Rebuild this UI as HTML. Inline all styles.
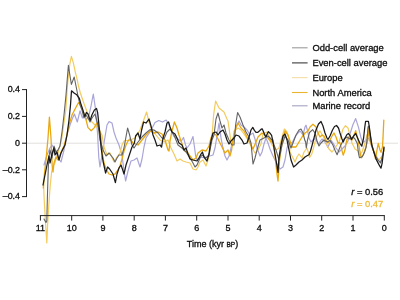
<!DOCTYPE html>
<html lang="en"><head><meta charset="utf-8"><title>Figure</title>
<style>
html,body{margin:0;padding:0;background:#fff;}
body{width:400px;height:300px;overflow:hidden;position:relative;font-family:"Liberation Sans",sans-serif;}
svg{position:absolute;left:0;top:0;display:block;}
text{font-family:"Liberation Sans",sans-serif;fill:#0c0c0c;stroke:#0c0c0c;stroke-width:0.3px;}
.ax{stroke:#222;stroke-width:1;fill:none;}
.ser{fill:none;stroke-linejoin:round;stroke-linecap:round;}
</style></head><body>
<svg width="400" height="300" viewBox="0 0 400 300">
<rect width="400" height="300" fill="#fff"/>
<line x1="27" y1="143.2" x2="398" y2="143.2" stroke="#e3e0dc" stroke-width="1"/>
<path class="ser" d="M44.0,165.0 L47.0,155.0 L50.0,148.0 L52.0,145.0 L55.0,150.0 L58.0,158.0 L61.0,162.0 L64.0,150.0 L67.0,135.0 L70.0,125.0 L72.0,119.6 L74.4,114.0 L77.3,122.0 L80.0,110.8 L82.4,118.0 L84.0,114.8 L86.4,119.6 L88.8,116.4 L91.2,105.2 L93.3,94.0 L95.2,106.8 L96.5,121.2 L97.6,134.0 L98.8,157.5 L100.0,167.0 L102.0,155.0 L104.0,143.0 L107.0,125.0 L109.0,121.6 L112.0,123.0 L114.0,132.0 L116.0,138.0 L119.0,145.0 L122.0,155.0 L124.0,171.0 L125.6,181.0 L128.0,171.0 L131.0,161.0 L134.0,160.0 L137.0,158.0 L140.0,167.0 L142.0,159.0 L144.0,147.0 L146.0,138.0 L148.0,135.0 L151.2,130.0 L155.0,122.5 L158.8,120.5 L162.5,122.0 L166.2,120.0 L168.8,123.8 L171.2,130.0 L173.8,136.2 L177.5,138.8 L181.2,141.2 L183.5,137.5 L185.5,145.0 L187.0,148.0 L190.0,144.0 L193.0,136.5 L194.4,146.5 L195.6,155.5 L197.0,160.0 L200.0,157.0 L205.0,158.0 L210.0,156.0 L213.0,155.0 L215.0,148.0 L217.0,136.0 L219.0,123.0 L220.0,130.0 L221.0,138.0 L223.0,148.0 L225.0,156.0 L227.0,160.0 L229.0,156.0 L231.0,148.0 L233.0,140.0 L235.0,132.0 L237.0,125.0 L239.0,121.0 L241.0,125.0 L244.0,127.0 L247.0,130.0 L250.0,135.0 L253.0,133.0 L255.0,139.0 L257.0,148.0 L260.0,156.0 L262.0,152.0 L264.0,144.0 L266.0,138.0 L268.0,143.0 L270.0,149.0 L273.0,156.0 L277.0,164.0 L280.0,169.0 L283.0,167.0 L285.0,160.0 L287.0,148.0 L289.0,142.0 L292.0,143.0 L295.0,137.0 L298.0,133.0 L300.0,131.0 L303.0,135.0 L305.0,127.0 L306.0,125.2 L307.6,131.0 L309.0,138.0 L311.0,142.0 L313.0,140.0 L315.7,138.2 L317.4,142.6 L319.0,144.8 L320.1,141.5 L322.0,139.0 L324.5,141.5 L326.7,144.8 L327.8,147.5 L329.4,143.7 L331.1,140.4 L333.0,143.0 L336.0,148.0 L339.0,152.0 L342.0,149.0 L345.0,146.0 L348.0,141.0 L350.0,134.0 L352.8,125.0 L355.7,118.6 L358.5,127.4 L360.6,136.2 L362.3,141.7 L364.0,142.0 L366.0,140.0 L369.0,138.0 L371.0,144.0 L372.8,149.0 L375.5,154.5 L377.7,159.0 L380.0,162.0 L381.5,160.0 L384.0,150.0" stroke="#a9a5d8" stroke-width="1.2"/>
<path class="ser" d="M43.4,180.0 L44.2,200.0 L45.5,222.0 L46.8,243.0 L47.6,225.0 L48.5,210.0 L49.3,198.0 L50.2,186.0 L51.6,172.0 L53.0,166.0 L54.5,164.0 L58.0,153.0 L61.8,138.0 L65.8,110.0 L67.4,86.0 L68.6,74.0 L69.8,64.4 L71.4,56.4 L73.4,63.2 L75.2,71.6 L77.0,78.8 L78.4,85.5 L80.2,92.5 L82.4,99.0 L84.0,103.6 L86.4,110.0 L88.8,116.4 L91.0,121.0 L95.0,125.0 L98.0,128.0 L102.0,135.0 L104.0,147.0 L107.0,155.0 L110.0,153.0 L114.0,162.0 L117.0,157.0 L120.0,153.0 L122.0,145.0 L124.0,141.0 L130.0,140.0 L135.0,138.0 L140.0,130.0 L143.0,122.0 L146.6,112.0 L149.0,122.0 L152.0,130.0 L156.0,135.0 L160.0,140.0 L164.0,142.0 L168.0,140.0 L171.0,148.0 L174.0,154.0 L177.0,161.0 L180.0,159.0 L183.0,161.0 L186.0,162.0 L190.0,163.0 L193.0,169.0 L196.0,170.0 L198.0,167.0 L200.0,162.0 L203.0,160.0 L206.0,166.0 L208.0,160.0 L210.0,150.0 L212.0,136.0 L213.6,115.0 L215.6,101.0 L219.0,108.0 L224.0,112.0 L227.0,119.0 L228.0,121.0 L230.0,135.0 L231.6,147.0 L233.0,140.0 L234.0,131.0 L238.0,128.0 L241.0,130.0 L244.0,134.0 L248.0,140.0 L252.0,148.0 L255.0,153.0 L258.0,150.0 L261.0,144.0 L263.0,134.0 L267.0,132.0 L270.0,138.0 L272.0,145.0 L276.0,150.0 L279.0,148.0 L282.0,137.0 L284.4,129.0 L287.0,132.0 L289.0,139.0 L290.0,152.0 L293.0,158.0 L295.0,162.0 L297.0,157.0 L299.0,154.0 L302.0,158.0 L304.0,152.0 L307.0,148.0 L308.5,153.0 L309.6,157.5 L311.9,153.6 L313.5,148.0 L314.6,143.7 L316.0,138.0 L318.0,133.0 L320.0,131.0 L323.0,136.0 L326.0,143.0 L329.0,149.0 L332.0,152.0 L335.0,148.0 L339.0,142.0 L341.0,136.0 L343.0,129.0 L345.5,125.7 L348.0,128.0 L350.0,135.0 L352.0,143.0 L355.0,149.0 L358.0,151.0 L360.0,155.0 L362.0,152.0 L365.0,143.0 L367.0,135.0 L369.0,131.0 L371.0,139.0 L373.0,149.0 L376.0,156.0 L379.0,160.0 L382.0,156.0 L384.4,150.0" stroke="#f3cb5e" stroke-width="1.2"/>
<path class="ser" d="M43.3,188.0 L44.6,172.0 L46.0,160.0 L48.0,138.0 L49.4,117.2 L51.0,138.0 L52.2,166.0 L53.0,172.0 L54.0,163.0 L56.0,157.0 L58.0,160.0 L60.0,155.0 L62.0,150.0 L64.0,146.0 L66.6,136.4 L69.0,125.0 L72.0,115.0 L75.6,108.0 L78.4,102.8 L80.8,105.0 L83.2,111.6 L85.6,118.0 L88.0,127.6 L91.2,130.8 L94.4,127.6 L96.8,123.0 L99.0,128.0 L101.0,138.0 L102.0,151.0 L104.0,163.0 L106.0,169.0 L109.0,174.0 L112.0,175.0 L115.0,174.0 L118.0,170.0 L120.0,166.0 L122.0,159.0 L124.0,151.0 L126.0,145.0 L128.0,141.0 L130.0,139.0 L133.0,143.0 L138.0,145.0 L142.0,140.0 L146.0,135.0 L150.0,131.0 L154.0,133.0 L158.0,132.0 L162.0,134.0 L165.0,140.0 L168.0,150.0 L169.0,151.0 L170.0,141.0 L172.0,131.0 L174.4,122.0 L177.0,128.0 L179.0,135.0 L181.0,141.0 L183.0,147.0 L185.0,151.0 L187.0,152.0 L190.0,156.0 L193.0,160.0 L196.0,158.0 L198.0,153.0 L202.0,150.0 L206.0,151.0 L209.0,146.0 L211.0,138.0 L213.0,133.0 L216.0,135.0 L219.0,141.0 L222.0,147.0 L225.0,153.0 L228.0,150.0 L230.0,156.0 L231.6,150.0 L233.0,140.0 L234.0,135.0 L236.0,127.0 L238.0,123.0 L241.0,128.0 L244.0,131.0 L247.0,137.0 L250.0,143.0 L253.0,149.0 L256.0,142.0 L258.0,137.0 L262.0,133.0 L265.0,135.0 L268.0,138.0 L271.0,142.0 L273.0,140.0 L275.0,156.0 L277.0,174.0 L278.0,181.0 L279.6,160.0 L281.0,150.0 L283.0,138.0 L285.0,131.0 L288.0,135.0 L290.0,141.0 L292.0,147.0 L296.0,147.0 L299.0,142.0 L302.0,137.0 L305.0,133.0 L308.0,131.0 L310.0,127.0 L313.0,124.3 L316.0,127.0 L318.0,133.0 L320.0,137.0 L322.0,135.0 L324.0,136.0 L326.0,140.0 L328.0,143.0 L330.0,140.0 L332.0,136.0 L334.0,133.0 L336.0,137.0 L338.0,143.0 L339.9,142.6 L341.6,149.2 L343.2,155.2 L344.9,150.3 L346.0,143.7 L347.0,139.3 L349.0,137.0 L352.0,140.0 L355.7,130.7 L358.0,140.0 L360.0,152.0 L361.2,157.8 L363.4,154.5 L365.6,148.0 L367.8,140.0 L368.4,128.5 L370.0,140.0 L372.0,147.0 L374.4,153.4 L375.5,158.9 L377.0,150.0 L378.2,143.5 L380.0,150.0 L381.0,152.3 L382.5,147.0 L383.0,138.0 L383.8,120.2" stroke="#e8a812" stroke-width="1.3"/>
<path class="ser" d="M44.0,219.0 L46.0,222.5 L46.8,221.0 L47.2,205.0 L47.6,190.0 L48.3,168.0 L48.8,158.0 L50.0,150.0 L52.0,158.0 L54.0,146.0 L56.0,152.0 L58.0,150.0 L60.0,146.0 L62.0,132.0 L64.0,115.0 L66.0,95.0 L67.2,80.0 L68.4,65.4 L70.0,76.0 L71.4,84.4 L74.2,77.0 L76.8,90.0 L78.4,98.0 L80.0,105.0 L82.0,110.0 L84.0,118.0 L86.0,115.0 L88.0,118.0 L90.0,122.0 L92.0,118.0 L95.0,114.0 L98.0,125.0 L100.0,140.0 L103.0,150.0 L106.0,156.0 L109.0,153.0 L113.0,158.0 L115.0,162.0 L117.0,158.0 L119.0,155.0 L122.0,155.0 L124.0,148.0 L125.6,139.0 L127.6,128.0 L129.6,135.0 L132.0,145.0 L134.0,148.0 L138.0,142.0 L142.0,137.0 L146.0,133.0 L150.0,129.6 L154.0,130.0 L158.0,133.0 L162.0,138.0 L164.0,139.0 L167.0,132.0 L170.0,129.0 L174.0,135.0 L178.0,145.0 L182.0,148.0 L186.0,152.0 L190.0,158.0 L193.0,163.0 L195.0,167.0 L197.0,165.0 L200.0,158.0 L202.0,155.0 L206.0,158.0 L209.0,155.0 L212.0,140.0 L214.0,135.0 L216.0,119.0 L218.0,113.0 L220.0,121.0 L222.0,128.0 L224.0,125.0 L226.0,133.0 L229.0,140.0 L232.0,145.0 L234.0,145.0 L235.6,125.0 L237.6,112.6 L240.0,117.0 L243.0,125.0 L246.0,132.0 L249.0,137.0 L251.0,143.0 L253.0,164.0 L255.0,158.0 L257.0,150.0 L260.0,140.0 L264.0,138.0 L268.0,136.0 L272.0,140.0 L276.0,150.0 L279.0,160.0 L282.0,145.0 L285.0,136.0 L288.0,140.0 L291.0,148.0 L293.0,143.0 L296.0,135.0 L299.0,130.0 L301.0,129.0 L303.0,133.0 L305.0,141.0 L305.5,141.0 L306.3,148.0 L307.5,140.0 L309.5,132.5 L312.7,129.7 L315.0,133.0 L317.0,141.0 L319.0,146.0 L321.0,143.0 L324.0,140.0 L327.0,142.0 L330.0,140.4 L332.8,144.8 L335.0,150.3 L337.1,154.7 L338.8,150.3 L340.4,145.9 L342.1,142.6 L344.0,139.0 L347.0,137.0 L350.0,139.0 L353.0,137.0 L355.0,139.0 L357.3,143.5 L358.5,153.4 L359.5,157.8 L362.3,156.7 L364.5,152.3 L366.2,146.8 L367.2,138.0 L368.0,127.0 L369.0,126.0 L370.0,134.0 L372.0,146.0 L375.0,155.0 L378.0,160.0 L380.5,163.0 L382.0,158.0 L384.0,148.0" stroke="#636363" stroke-width="1.1"/>
<path class="ser" d="M43.0,185.0 L45.0,175.0 L47.0,165.0 L49.0,156.0 L50.0,163.0 L52.0,154.0 L54.0,148.0 L55.0,155.0 L57.0,152.0 L59.0,160.0 L61.0,153.0 L63.0,149.0 L65.0,145.0 L67.0,135.0 L69.0,120.0 L70.5,105.0 L71.5,90.8 L74.4,93.2 L76.8,94.8 L79.2,98.0 L80.8,103.6 L82.4,108.4 L84.8,116.4 L86.4,112.4 L88.0,114.0 L90.1,120.4 L92.0,114.8 L94.4,110.0 L96.5,108.4 L97.6,112.4 L98.4,119.6 L99.2,127.6 L100.0,134.0 L101.0,147.0 L103.0,161.0 L105.6,173.0 L107.6,167.0 L109.6,169.0 L113.0,174.0 L115.4,182.6 L117.0,174.0 L119.0,168.0 L121.0,165.0 L122.4,169.0 L124.0,174.0 L126.0,165.0 L128.0,159.0 L130.0,153.0 L132.0,147.0 L134.4,143.0 L135.6,136.0 L138.0,133.0 L140.0,139.0 L141.6,130.0 L143.6,122.0 L146.0,123.0 L149.0,119.0 L151.0,126.0 L153.0,135.0 L155.0,140.0 L157.0,146.0 L160.0,145.0 L161.6,147.0 L163.0,138.0 L165.0,132.0 L167.0,123.0 L168.6,122.0 L170.0,127.0 L172.0,132.0 L175.0,134.0 L177.0,138.0 L179.0,143.0 L182.0,145.0 L184.0,150.0 L186.0,148.0 L188.0,154.0 L190.0,159.0 L193.0,160.0 L197.0,161.0 L199.0,158.0 L201.0,154.0 L202.4,152.0 L204.0,157.0 L207.0,161.0 L209.0,154.0 L210.0,146.0 L211.0,141.0 L213.0,133.0 L216.0,132.0 L218.0,135.0 L220.0,132.0 L223.0,130.0 L225.0,134.0 L227.0,140.0 L229.0,144.0 L231.0,141.0 L233.0,139.0 L236.0,135.0 L239.0,136.0 L242.0,140.0 L244.0,144.0 L247.0,143.0 L249.0,137.0 L251.0,130.0 L252.8,127.4 L254.4,130.4 L256.0,132.4 L257.6,132.4 L259.6,130.8 L261.2,129.2 L262.2,128.8 L263.6,132.0 L265.2,136.0 L266.0,136.8 L267.2,134.0 L268.4,131.6 L270.0,133.2 L271.6,135.4 L272.4,139.2 L273.0,142.0 L275.0,154.0 L277.0,166.0 L278.0,172.5 L279.0,157.0 L281.0,145.0 L283.0,136.0 L285.0,134.0 L287.0,140.0 L289.0,150.0 L291.0,160.0 L293.6,167.0 L296.0,165.0 L299.0,162.0 L302.0,160.0 L305.0,157.0 L307.5,155.5 L309.0,154.7 L310.5,151.0 L312.0,145.6 L314.0,138.0 L316.0,130.0 L318.5,124.0 L321.0,121.5 L323.0,126.0 L325.0,133.0 L327.0,138.0 L328.0,139.5 L330.0,136.0 L332.5,130.0 L334.5,126.5 L336.5,125.5 L338.5,128.0 L340.0,133.0 L342.0,139.0 L343.2,142.0 L345.0,138.0 L347.0,134.5 L348.5,133.5 L350.0,135.5 L351.5,139.5 L353.6,136.0 L355.7,133.5 L357.6,138.0 L360.0,143.5 L361.8,146.2 L363.6,138.0 L364.8,127.0 L365.6,121.4 L368.4,121.4 L369.2,126.0 L370.0,132.0 L371.7,144.6 L373.9,152.3 L376.0,158.9 L378.8,164.4 L381.0,168.2 L382.1,163.3 L383.2,154.5 L384.0,147.0" stroke="#1a1a1a" stroke-width="1.25"/>
<path class="ax" d="M26.5,89.1 V197.1 M22,89.6 H26.5 M22,116.4 H26.5 M22,143.2 H26.5 M22,169.8 H26.5 M22,196.6 H26.5 "/>
<text x="20" y="92.4" font-size="8.9" text-anchor="end">0.4</text>
<text x="20" y="119.2" font-size="8.9" text-anchor="end">0.2</text>
<text x="20" y="146.0" font-size="8.9" text-anchor="end">0</text>
<text x="20" y="172.6" font-size="8.9" text-anchor="end">–0.2</text>
<text x="20" y="199.4" font-size="8.9" text-anchor="end">–0.4</text>
<path class="ax" d="M39.9,215.6 H384.8 M40.4,215.6 V220.6 M71.7,215.6 V220.6 M102.9,215.6 V220.6 M134.2,215.6 V220.6 M165.4,215.6 V220.6 M196.7,215.6 V220.6 M228.0,215.6 V220.6 M259.2,215.6 V220.6 M290.5,215.6 V220.6 M321.7,215.6 V220.6 M353.0,215.6 V220.6 M384.3,215.6 V220.6 "/>
<text x="40.4" y="230.8" font-size="9" text-anchor="middle">11</text>
<text x="71.7" y="230.8" font-size="9" text-anchor="middle">10</text>
<text x="102.9" y="230.8" font-size="9" text-anchor="middle">9</text>
<text x="134.2" y="230.8" font-size="9" text-anchor="middle">8</text>
<text x="165.4" y="230.8" font-size="9" text-anchor="middle">7</text>
<text x="196.7" y="230.8" font-size="9" text-anchor="middle">6</text>
<text x="228.0" y="230.8" font-size="9" text-anchor="middle">5</text>
<text x="259.2" y="230.8" font-size="9" text-anchor="middle">4</text>
<text x="290.5" y="230.8" font-size="9" text-anchor="middle">3</text>
<text x="321.7" y="230.8" font-size="9" text-anchor="middle">2</text>
<text x="353.0" y="230.8" font-size="9" text-anchor="middle">1</text>
<text x="384.3" y="230.8" font-size="9" text-anchor="middle">0</text>
<text x="212.5" y="247.4" font-size="9" text-anchor="middle">Time (kyr <tspan font-size="6.5">BP</tspan>)</text>
<line x1="292" y1="47.8" x2="307.6" y2="47.8" stroke="#9b9b9b" stroke-width="1.1"/>
<text x="312.4" y="51.0" font-size="9.4">Odd-cell average</text>
<line x1="292" y1="62.9" x2="307.6" y2="62.9" stroke="#3a3a3a" stroke-width="1.1"/>
<text x="312.4" y="65.9" font-size="9.4">Even-cell average</text>
<line x1="292" y1="77.6" x2="307.6" y2="77.6" stroke="#f4dfa4" stroke-width="1.1"/>
<text x="312.4" y="81.0" font-size="9.4">Europe</text>
<line x1="292" y1="92.5" x2="307.6" y2="92.5" stroke="#eab52e" stroke-width="1.1"/>
<text x="312.4" y="95.5" font-size="9.4">North America</text>
<line x1="292" y1="105.8" x2="307.6" y2="105.8" stroke="#a4a3c2" stroke-width="1.1"/>
<text x="312.4" y="108.6" font-size="9.4">Marine record</text>
<text x="351.2" y="194.9" font-size="9.4"><tspan font-style="italic">r</tspan> = 0.56</text>
<text x="351.2" y="207.1" font-size="9.4" style="fill:#eeba3a;stroke:#eeba3a"><tspan font-style="italic">r</tspan> = 0.47</text>
</svg></body></html>
